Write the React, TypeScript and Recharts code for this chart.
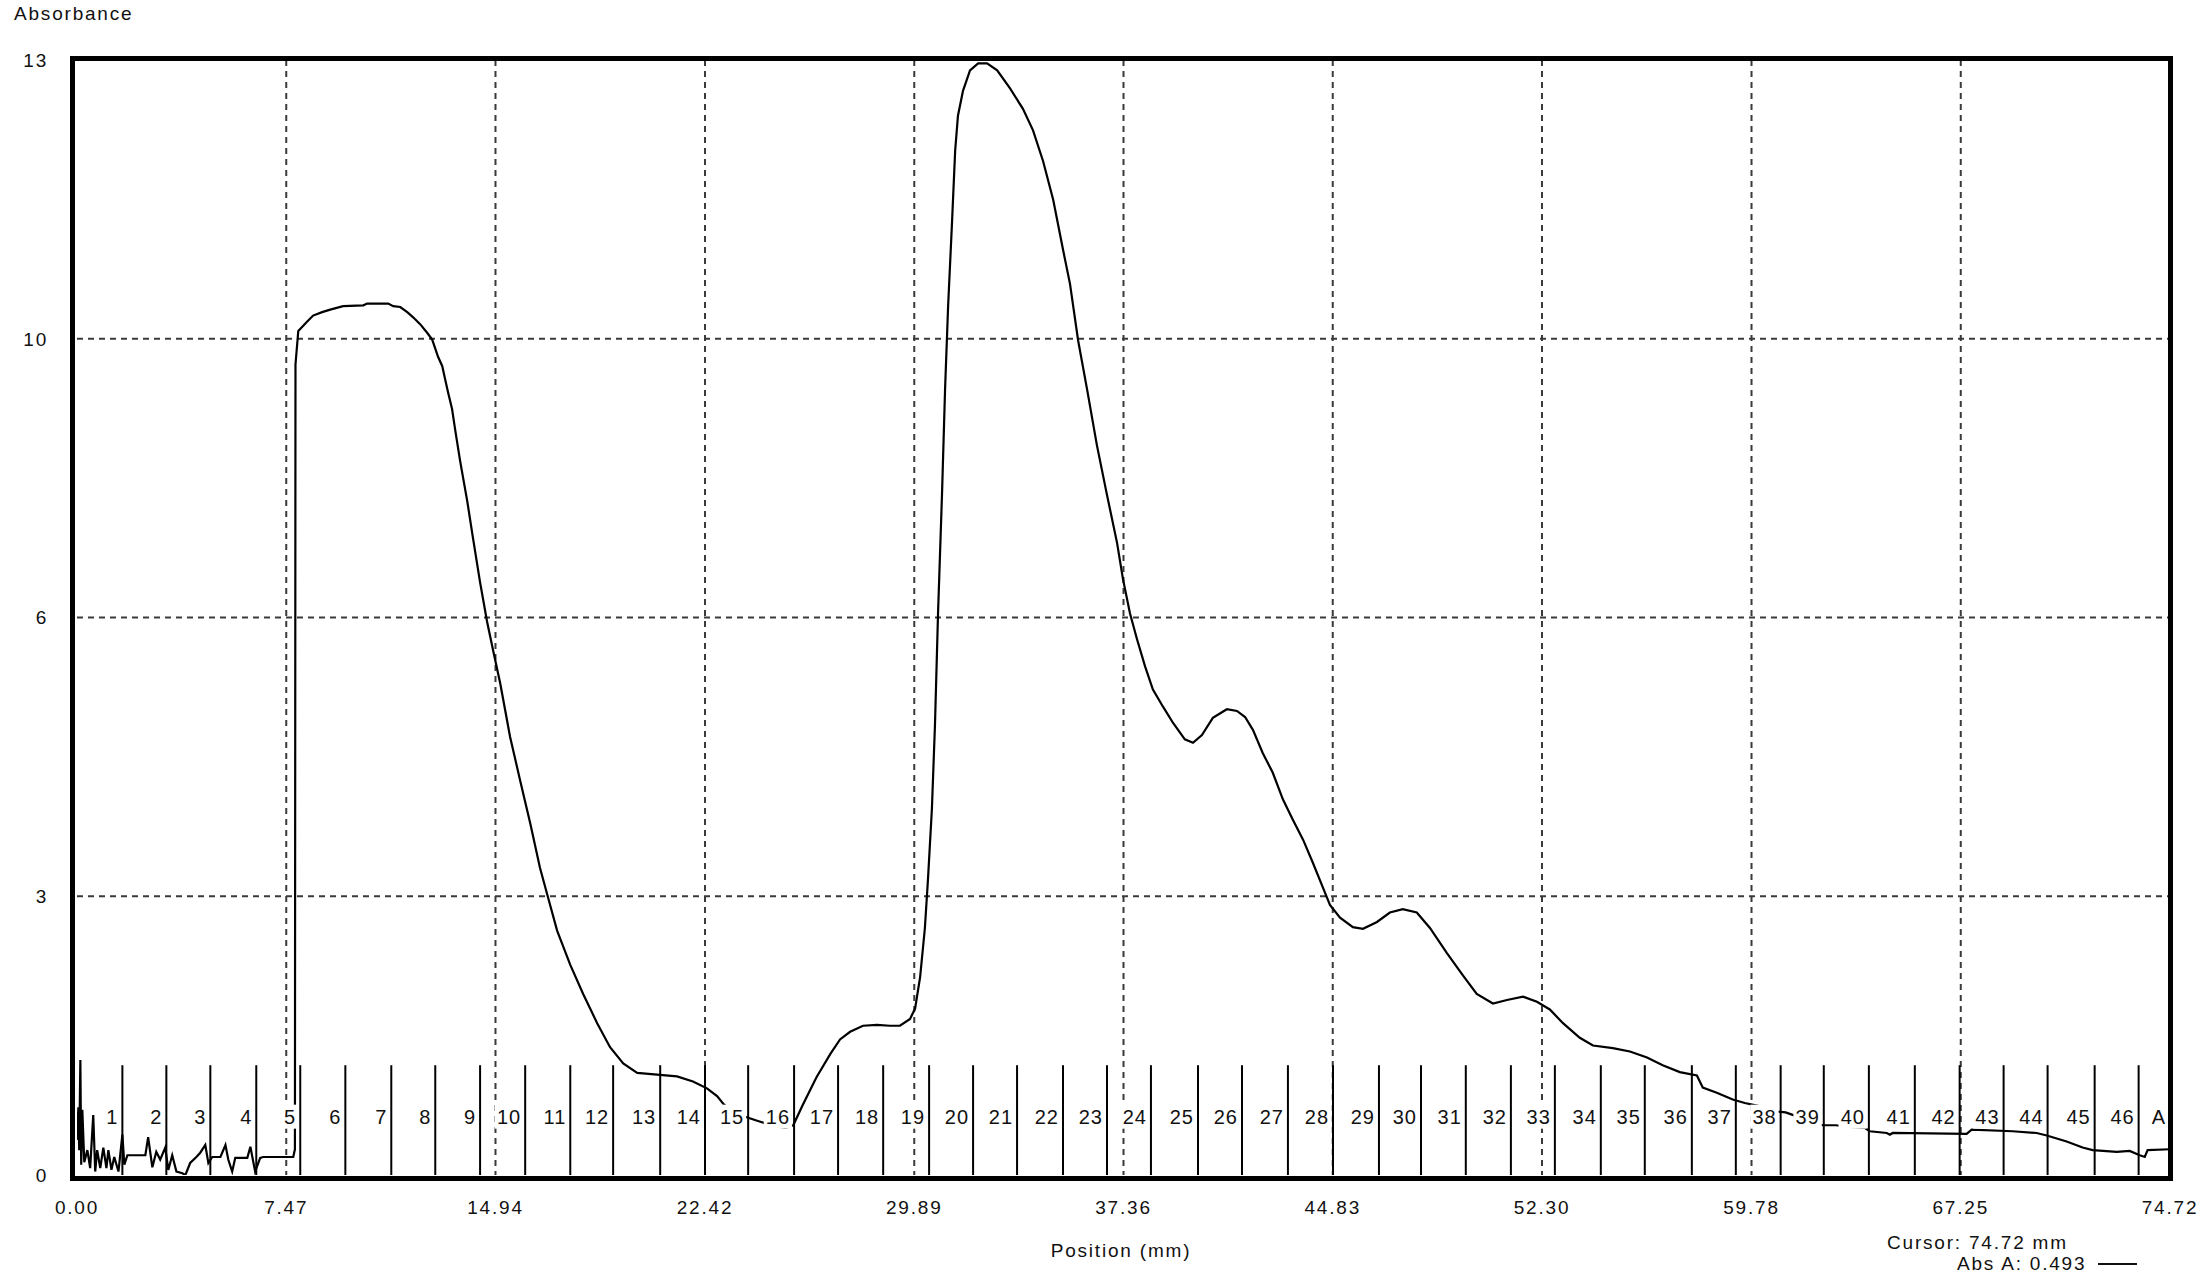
import React from 'react';
import { ComposedChart, Line, Scatter, XAxis, YAxis, CartesianGrid, ReferenceLine } from 'recharts';

const FONT = '"Liberation Sans", Arial, Helvetica, sans-serif';

const xMin = 0;
const xMax = 74.72;
const yMin = 0;
const yMax = 13;

const xTicks = [0, 7.47, 14.94, 22.42, 29.89, 37.36, 44.83, 52.3, 59.78, 67.25, 74.72];
const xTickLabels = ['0.00', '7.47', '14.94', '22.42', '29.89', '37.36', '44.83', '52.30', '59.78', '67.25', '74.72'];
const yTicks = [0, 3.25, 6.5, 9.75, 13];
const yTickLabels = ['0', '3', '6', '10', '13'];

// fraction boundaries (mm) and labels
const fractionBoundaries = [
  1.62, 3.19, 4.76, 6.4, 7.97, 9.58, 11.22, 12.79, 14.39, 16.0, 17.61, 19.14, 20.82, 22.42, 23.96, 25.6,
  27.17, 28.78, 30.42, 31.99, 33.56, 35.2, 36.77, 38.34, 40.02, 41.59, 43.23, 44.84, 46.48, 47.98, 49.58,
  51.19, 52.76, 54.4, 55.97, 57.65, 59.22, 60.82, 62.36, 63.97, 65.61, 67.21, 68.78, 70.35, 72.03, 73.6,
];
const fractionLabels = [
  '1', '2', '3', '4', '5', '6', '7', '8', '9', '10', '11', '12', '13', '14', '15', '16', '17', '18', '19', '20',
  '21', '22', '23', '24', '25', '26', '27', '28', '29', '30', '31', '32', '33', '34', '35', '36', '37', '38',
  '39', '40', '41', '42', '43', '44', '45', '46', 'A',
];
const fractionMarkTop = 1.28;
const fractionLabelLevel = 0.68;

// Absorbance trace: [position (mm), absorbance]
const trace: [number, number][] = [
  [0.0, 0.41], [0.05, 0.79], [0.08, 0.29], [0.12, 1.34], [0.15, 0.12], [0.19, 0.76], [0.26, 0.15], [0.37, 0.29],
  [0.47, 0.08], [0.58, 0.7], [0.65, 0.04], [0.72, 0.29], [0.83, 0.08], [0.94, 0.32], [1.05, 0.08], [1.12, 0.29],
  [1.23, 0.06], [1.33, 0.21], [1.48, 0.04], [1.62, 0.47], [1.69, 0.12], [1.8, 0.23], [1.97, 0.23], [2.44, 0.23],
  [2.54, 0.44], [2.69, 0.09], [2.83, 0.27], [2.97, 0.18], [3.15, 0.32], [3.26, 0.06], [3.4, 0.23], [3.55, 0.04],
  [3.76, 0.02], [3.87, 0.0], [4.04, 0.14], [4.26, 0.21], [4.4, 0.26], [4.58, 0.35], [4.69, 0.14], [4.83, 0.21],
  [5.12, 0.21], [5.3, 0.35], [5.4, 0.18], [5.54, 0.04], [5.65, 0.2], [6.08, 0.2], [6.19, 0.33], [6.36, 0.04],
  [6.54, 0.2], [6.65, 0.21], [7.72, 0.21], [7.78, 0.3], [7.8, 9.45], [7.9, 9.84], [8.22, 9.95], [8.43, 10.02],
  [8.75, 10.06], [9.04, 10.09], [9.5, 10.13], [10.22, 10.14], [10.36, 10.16], [11.11, 10.16], [11.29, 10.13],
  [11.54, 10.12], [11.79, 10.06], [12.0, 10.0], [12.25, 9.92], [12.5, 9.82], [12.68, 9.74], [12.89, 9.54],
  [13.04, 9.43], [13.14, 9.28], [13.25, 9.12], [13.39, 8.93], [13.5, 8.69], [13.68, 8.32], [13.93, 7.86],
  [14.14, 7.42], [14.39, 6.91], [14.64, 6.45], [14.86, 6.11], [15.11, 5.73], [15.46, 5.11], [15.82, 4.6],
  [16.18, 4.1], [16.53, 3.58], [16.78, 3.28], [17.14, 2.85], [17.61, 2.45], [18.07, 2.11], [18.57, 1.77],
  [19.03, 1.49], [19.5, 1.3], [20.0, 1.19], [20.71, 1.17], [21.42, 1.15], [21.99, 1.09], [22.49, 1.01],
  [22.85, 0.92], [23.1, 0.82], [23.56, 0.71], [24.31, 0.63], [24.9, 0.57], [25.3, 0.55], [25.57, 0.58],
  [25.9, 0.81], [26.4, 1.14], [26.89, 1.41], [27.24, 1.58], [27.6, 1.67], [28.06, 1.74], [28.56, 1.75],
  [29.02, 1.74], [29.38, 1.74], [29.74, 1.82], [29.92, 1.94], [30.1, 2.31], [30.27, 2.88], [30.38, 3.45],
  [30.52, 4.27], [30.63, 5.25], [30.74, 6.56], [30.88, 7.93], [30.99, 9.16], [31.1, 10.14], [31.24, 11.12],
  [31.35, 11.94], [31.45, 12.35], [31.63, 12.64], [31.88, 12.88], [32.17, 12.96], [32.49, 12.96], [32.85, 12.88],
  [33.31, 12.67], [33.77, 12.43], [34.13, 12.18], [34.49, 11.82], [34.85, 11.37], [35.2, 10.79], [35.45, 10.39],
  [35.74, 9.73], [36.06, 9.16], [36.41, 8.51], [36.77, 7.93], [37.13, 7.37], [37.34, 6.95], [37.59, 6.55],
  [37.84, 6.25], [38.13, 5.93], [38.41, 5.66], [38.77, 5.46], [39.13, 5.27], [39.55, 5.08], [39.84, 5.04],
  [40.16, 5.13], [40.55, 5.33], [41.05, 5.43], [41.41, 5.41], [41.7, 5.34], [41.98, 5.19], [42.33, 4.92],
  [42.69, 4.69], [43.05, 4.38], [43.41, 4.14], [43.77, 3.91], [44.12, 3.64], [44.48, 3.35], [44.73, 3.15],
  [45.09, 3.0], [45.55, 2.89], [45.91, 2.87], [46.41, 2.95], [46.87, 3.06], [47.33, 3.1], [47.83, 3.06],
  [48.3, 2.88], [48.9, 2.59], [49.47, 2.33], [49.97, 2.11], [50.55, 2.0], [51.05, 2.04], [51.62, 2.08],
  [52.12, 2.02], [52.58, 1.93], [53.05, 1.77], [53.65, 1.6], [54.12, 1.51], [54.83, 1.48], [55.44, 1.44],
  [56.05, 1.37], [56.61, 1.28], [57.22, 1.2], [57.83, 1.16], [58.04, 1.02], [58.54, 0.96], [59.11, 0.88],
  [59.54, 0.84], [60.1, 0.8], [60.7, 0.74], [61.0, 0.73], [61.6, 0.66], [62.32, 0.58], [62.79, 0.58],
  [63.3, 0.56], [63.82, 0.55], [64.0, 0.51], [64.61, 0.49], [64.72, 0.47], [64.82, 0.49], [67.46, 0.48],
  [67.64, 0.53], [69.1, 0.51], [69.96, 0.49], [70.32, 0.46], [71.03, 0.39], [71.6, 0.32], [71.96, 0.29],
  [72.82, 0.27], [73.28, 0.28], [73.64, 0.23], [73.82, 0.21], [73.92, 0.29], [74.72, 0.3],
];

const traceData = trace.map(([x, y]) => ({ x, y }));
const labelAnchors = [...fractionBoundaries, xMax];
const fractionLabelData = fractionLabels.map((label, i) => ({ x: labelAnchors[i], y: fractionLabelLevel, label }));
const innerXTicks = xTicks.filter((t) => t > xMin && t < xMax);
const innerYTicks = yTicks.filter((t) => t > yMin && t < yMax);

const FractionLabel = (props: any) => {
  const { cx, cy } = props;
  const label = (props.payload && props.payload.label) ?? props.label;
  if (cx == null || cy == null || label == null) return null;
  const w = String(label).length * 12.2 + 4;
  return (
    <g>
      <rect x={cx - 2 - w} y={cy - 12} width={w} height={24} fill="#ffffff" />
      <text
        x={cx - 4}
        y={cy}
        dy="0.36em"
        textAnchor="end"
        fontFamily={FONT}
        fontSize={20}
        letterSpacing={1}
        fill="#111"
      >
        {label}
      </text>
    </g>
  );
};

const renderXTick = (p: any) => (
  <text
    x={p.x}
    y={p.y}
    dy="0.36em"
    textAnchor="middle"
    fontFamily={FONT}
    fontSize={19}
    letterSpacing={1.8}
    fill="#111"
  >
    {xTickLabels[p.index] ?? p.payload?.value}
  </text>
);

const renderYTick = (p: any) => (
  <text
    x={p.x}
    y={p.y}
    dy="0.36em"
    textAnchor="end"
    fontFamily={FONT}
    fontSize={19}
    letterSpacing={1.8}
    fill="#111"
  >
    {yTickLabels[p.index] ?? p.payload?.value}
  </text>
);

export default function App() {
  return (
    <div style={{ position: 'absolute', left: 0, top: 0, width: 2208, height: 1274, background: '#fff' }}>
      <ComposedChart width={2208} height={1274} margin={{ top: 60, right: 38, bottom: 39, left: 0 }}>
        <CartesianGrid
          stroke="#3a3a3a"
          strokeWidth={2}
          strokeDasharray="6 5"
          horizontalValues={innerYTicks}
          verticalValues={innerXTicks}
        />
        <XAxis
          type="number"
          dataKey="x"
          domain={[xMin, xMax]}
          ticks={xTicks}
          interval={0}
          height={60}
          axisLine={false}
          tickLine={false}
          tickSize={0}
          tickMargin={32}
          allowDataOverflow
          tick={renderXTick}
        />
        <YAxis
          type="number"
          dataKey="y"
          domain={[yMin, yMax]}
          ticks={yTicks}
          interval={0}
          width={77}
          axisLine={false}
          tickLine={false}
          tickSize={0}
          tickMargin={29}
          allowDataOverflow
          tick={renderYTick}
        />
        {fractionBoundaries.map((b) => (
          <ReferenceLine
            key={b}
            segment={[{ x: b, y: 0 }, { x: b, y: fractionMarkTop }]}
            stroke="#000"
            strokeWidth={2}
            ifOverflow="visible"
          />
        ))}
        <Line
          data={traceData}
          dataKey="y"
          type="linear"
          stroke="#000"
          strokeWidth={2.2}
          dot={false}
          isAnimationActive={false}
        />
        <Scatter data={fractionLabelData} dataKey="y" shape={FractionLabel} isAnimationActive={false} />
      </ComposedChart>
      <svg
        width={2208}
        height={1274}
        style={{ position: 'absolute', left: 0, top: 0, pointerEvents: 'none' }}
      >
        <rect x={72.5} y={58.5} width={2098} height={1120} fill="none" stroke="#000" strokeWidth={5} />
        <text x={14} y={13.5} dominantBaseline="central" fontFamily={FONT} fontSize={19} letterSpacing={1.8} fill="#111">
          Absorbance
        </text>
        <text x={1121} y={1250} dominantBaseline="central" textAnchor="middle" fontFamily={FONT} fontSize={19} letterSpacing={1.8} fill="#111">
          Position (mm)
        </text>
        <text x={1887} y={1242} dominantBaseline="central" fontFamily={FONT} fontSize={19} letterSpacing={1.8} fill="#111">
          Cursor: 74.72 mm
        </text>
        <text x={1957} y={1263} dominantBaseline="central" fontFamily={FONT} fontSize={19} letterSpacing={1.8} fill="#111">
          Abs A: 0.493
        </text>
        <line x1={2098} y1={1264} x2={2137} y2={1264} stroke="#111" strokeWidth={2} />
      </svg>
    </div>
  );
}
